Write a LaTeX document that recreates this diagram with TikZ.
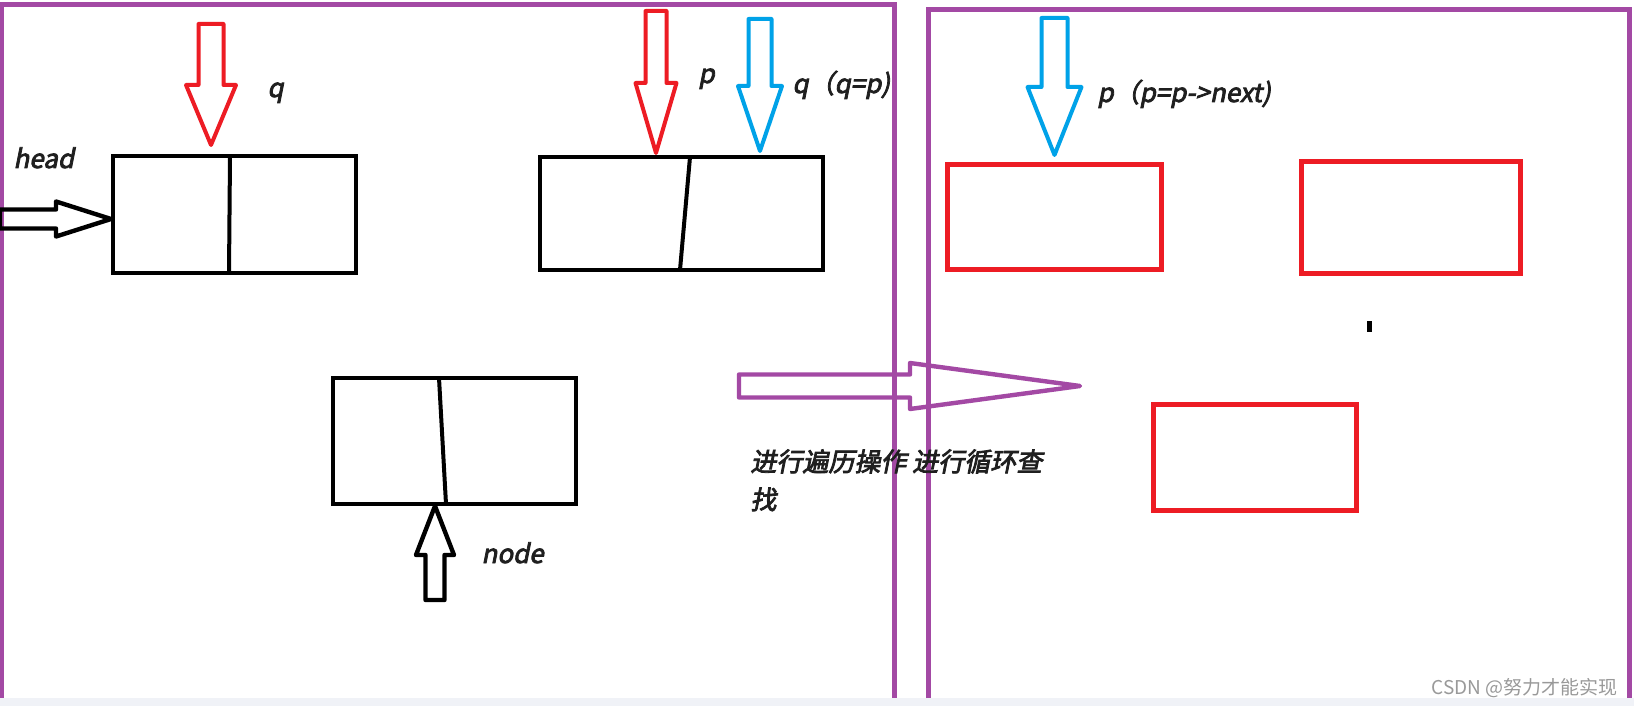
\documentclass[tikz,border=0pt]{standalone}
\usepackage{fontspec}
\usepackage{tikz}
\newfontfamily\cjk[FakeSlant=0.2,FakeBold=3]{Noto Sans CJK SC}
\newfontfamily\wmfont{Noto Sans CJK SC}
\definecolor{framepurple}{HTML}{A349A4}
\definecolor{ptrred}{HTML}{ED1C24}
\definecolor{ptrblue}{HTML}{00A2E8}
\definecolor{barbg}{HTML}{F0F2F7}

% hollow block arrow: style, tip, angle, length, head length, shaft half, head half
\newcommand{\fatarrow}[7]{%
  \draw[#1, rotate around={#3:(#2)}] (#2) -- ++(-#7,-#5) -- ++(#7-#6,0)
    -- ++(0,#5-#4) -- ++(2*#6,0) -- ++(0,#4-#5) -- ++(#7-#6,0) -- cycle;}

\begin{document}
\begin{tikzpicture}[
  x=0.5pt, y=-0.5pt,
  every node/.style={inner sep=0pt},
  box/.style={draw, line width=2.4pt},
  redbox/.style={draw=ptrred, line width=2.5pt},
  divider/.style={line width=2pt},
  lbl/.style={font=\cjk\fontsize{13}{19}\selectfont, text=black!88},
  redptr/.style={draw=ptrred, line width=2pt, line join=round},
  blueptr/.style={draw=ptrblue, line width=2pt, line join=round},
  blackptr/.style={draw=black, line width=2.2pt, line join=round},
  bigptr/.style={draw=framepurple, line width=2.2pt, line join=round},
  framebox/.style={draw=framepurple, line width=2.5pt}
]
\useasboundingbox (0,0) rectangle (1634,706);
\fill[white] (0,0) rectangle (1634,698);
\fill[barbg] (0,698) rectangle (1634,706);

% frames
\draw[framebox] (1.25,698) |- (894.5,5) -- (894.5,698);
\draw[framebox] (928.5,698) |- (1629.5,9.5) -- (1629.5,698);

% list nodes
\node[box, minimum width=121.5pt, minimum height=58.5pt] (headnode) at (234.5,214.5) {};
\draw[divider] (230,156) -- (229,273);
\node[box, minimum width=141.5pt, minimum height=56.5pt] (pnode) at (681.5,213.5) {};
\draw[divider] (690,157) -- (680,270);
\node[box, minimum width=121.5pt, minimum height=63pt] (newnode) at (454.5,441) {};
\draw[divider] (439,378) -- (446,504);

\node[redbox, minimum width=107pt, minimum height=52pt] (loop1) at (1054.5,217) {};
\node[redbox, minimum width=109.5pt, minimum height=55.5pt] (loop2) at (1410.5,217.5) {};
\node[redbox, minimum width=101.5pt, minimum height=53pt] (loop3) at (1254.5,457) {};
\fill (1367,321) rectangle (1372,332);

% pointers
\coordinate (qtip) at (211,145);
\coordinate (ptip) at (656,153);
\coordinate (qptip) at (760,151);
\coordinate (nexttip) at (1054.5,155);
\coordinate (headtip) at (111,219);
\coordinate (nodetip) at (435,506);
\coordinate (gotip) at (1080,386);

\fatarrow{redptr}{qtip}{0}{121}{60}{12.5}{25}
\fatarrow{redptr}{ptip}{0}{142}{70}{10.5}{20.5}
\fatarrow{blueptr}{qptip}{0}{132}{65}{11.5}{22}
\fatarrow{blueptr}{nexttip}{0}{137}{68}{13}{27}
\fatarrow{blackptr}{headtip}{90}{111}{55}{9.5}{17.5}
\fatarrow{blackptr}{nodetip}{180}{94}{49}{9.5}{19}
\fatarrow{bigptr}{gotip}{90}{341}{170}{11.5}{23}

% labels
\node[lbl, anchor=base west] (headlbl) at (13,168) {head};
\node[lbl, anchor=base west] (qlbl) at (267,97) {q};
\node[lbl, anchor=base west] (plbl) at (698,83) {p};
\node[lbl, anchor=base west] (qplbl) at (792,93) {q（q=p)};
\node[lbl, anchor=base west] (nextlbl) at (1097,102) {p（p=p->next)};
\node[lbl, anchor=base west] (nodelbl) at (481,563) {node};
\node[lbl, anchor=north west, align=left] (looplbl) at (750,449) {进行遍历操作 进行循环查\\找};

\node[font=\wmfont\fontsize{9.5}{11}\selectfont, text=gray!80, anchor=base east] (mark) at (1618,694) {CSDN @努力才能实现};
\end{tikzpicture}
\end{document}
